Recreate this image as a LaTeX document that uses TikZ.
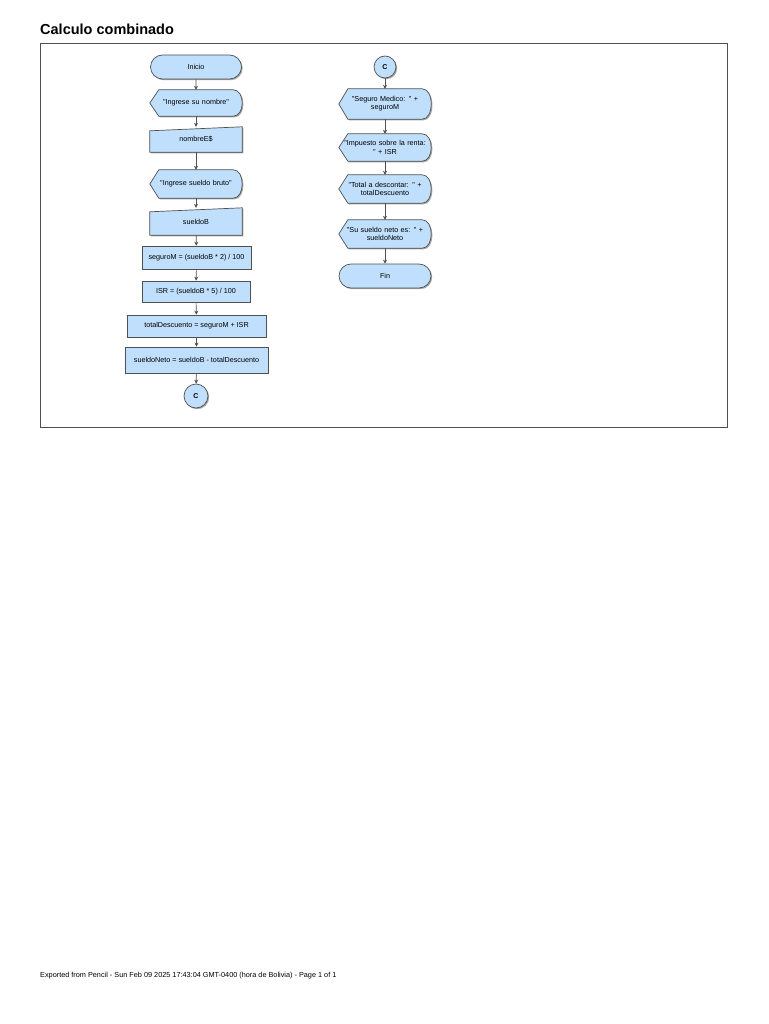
\documentclass[tikz,border=0pt]{standalone}
\usepackage{fontspec}
\setmainfont{Liberation Sans}[Ligatures=TeXOff]
\usetikzlibrary{shapes.misc,shadows,backgrounds,arrows.meta}
\definecolor{boxblue}{RGB}{191,223,252}
\definecolor{lineg}{RGB}{80,80,80}
\begin{document}
\begin{tikzpicture}[x=1pt,y=1pt,
                    shade/.style = {drop shadow={shadow xshift=1.2pt,shadow yshift=-1.2pt,fill=black,opacity=.35}},
                    outline/.style = {draw=lineg,fill=boxblue,line width=.7pt},
                    txt/.style = {font=\fontsize{7.2}{8.2}\selectfont,align=center,inner sep=0pt},
                    terminal/.style = {txt,rounded rectangle,outline,shade},
                    process/.style = {txt,rectangle,outline,shade},
                    connector/.style = {txt,circle,outline,shade,font=\fontsize{7}{8}\selectfont\bfseries},
                    display/.style = {txt,rectangle,text width=90pt},
                    manual/.style = {txt,rectangle},
                    arrow/.style = {draw=lineg,line width=.6pt,-{Stealth[length=4pt,width=4pt]}}]
                    \useasboundingbox (0,0) rectangle (768,-1024);

                    \node [anchor=base west,font=\fontsize{14.5}{16}\selectfont\bfseries,inner sep=0pt] (title) at (40,-35) {Calculo combinado};
                    \draw [lineg,line width=.7pt] (40,-43) rectangle (727,-427);

                    \node [terminal,minimum width=91pt,minimum height=24pt] (ini) at (196,-67) {Inicio};
                    \node [display,minimum width=92pt,minimum height=26pt] (pnom) at (196,-103) {"Ingrese su nombre"};
                    \node [manual,minimum width=92pt,minimum height=25pt] (lnom) at (196,-139.5) {nombreE\$};
                    \node [display,minimum width=92pt,minimum height=28pt] (psue) at (196,-184) {"Ingrese sueldo bruto"};
                    \node [manual,minimum width=92pt,minimum height=27pt] (lsue) at (196,-221.5) {sueldoB};
                    \node [process,minimum width=109pt,minimum height=23pt] (cseg) at (196.5,-257.5) {seguroM = (sueldoB * 2) / 100};
                    \node [process,minimum width=108pt,minimum height=21pt] (cisr) at (196,-291.5) {ISR = (sueldoB * 5) / 100};
                    \node [process,minimum width=139pt,minimum height=22pt] (ctot) at (196.5,-326) {totalDescuento = seguroM + ISR};
                    \node [process,minimum width=143pt,minimum height=26pt] (cnet) at (196.5,-360) {sueldoNeto = sueldoB - totalDescuento};
                    \node [connector,minimum size=24pt] (conA) at (196,-396) {C};

                    \node [connector,minimum size=22pt] (conB) at (385,-67) {C};
                    \node [display,minimum width=92pt,minimum height=30pt] (mseg) at (385,-104) {"Seguro Medico: " +\\ seguroM};
                    \node [display,minimum width=92pt,minimum height=27pt] (misr) at (385,-147.5) {"Impuesto sobre la renta:\\ " + ISR};
                    \node [display,minimum width=92pt,minimum height=28pt] (mtot) at (385,-189) {"Total a descontar: " +\\ totalDescuento};
                    \node [display,minimum width=92pt,minimum height=28pt] (mnet) at (385,-234) {"Su sueldo neto es: " +\\ sueldoNeto};
                    \node [terminal,minimum width=92pt,minimum height=24pt] (fin) at (385,-276) {Fin};

                    \begin{scope}[on background layer]
                    \foreach \n in {pnom,psue,mseg,misr,mtot,mnet}
                        \filldraw [outline,shade] (\n.west) -- ([xshift=9pt]\n.north west) -- ([xshift=-9pt]\n.north east)
                            .. controls ([xshift=3pt]\n.north east) and ([xshift=3pt]\n.south east) .. ([xshift=-9pt]\n.south east)
                            -- ([xshift=9pt]\n.south west) -- cycle;
                    \foreach \n in {lnom,lsue}
                        \filldraw [outline,shade] (\n.south west) -- ([yshift=-4pt]\n.north west) -- (\n.north east) -- (\n.south east) -- cycle;
                    \end{scope}

                    \draw[arrow] (ini) -- (pnom);
                    \draw[arrow] (pnom) -- (lnom);
                    \draw[arrow] (lnom) -- (psue);
                    \draw[arrow] (psue) -- (lsue);
                    \draw[arrow] (lsue) -- (cseg);
                    \draw[arrow] (cseg) -- (cisr);
                    \draw[arrow] (cisr) -- (ctot);
                    \draw[arrow] (ctot) -- (cnet);
                    \draw[arrow] (cnet) -- (conA);
                    \draw[arrow] (conB) -- (mseg);
                    \draw[arrow] (mseg) -- (misr);
                    \draw[arrow] (misr) -- (mtot);
                    \draw[arrow] (mtot) -- (mnet);
                    \draw[arrow] (mnet) -- (fin);

                    \node [anchor=base west,font=\fontsize{7.3}{8.5}\selectfont,inner sep=0pt] (foot) at (40,-977) {Exported from Pencil - Sun Feb 09 2025 17:43:04 GMT-0400 (hora de Bolivia) - Page 1 of 1};
                \end{tikzpicture}
\end{document}
